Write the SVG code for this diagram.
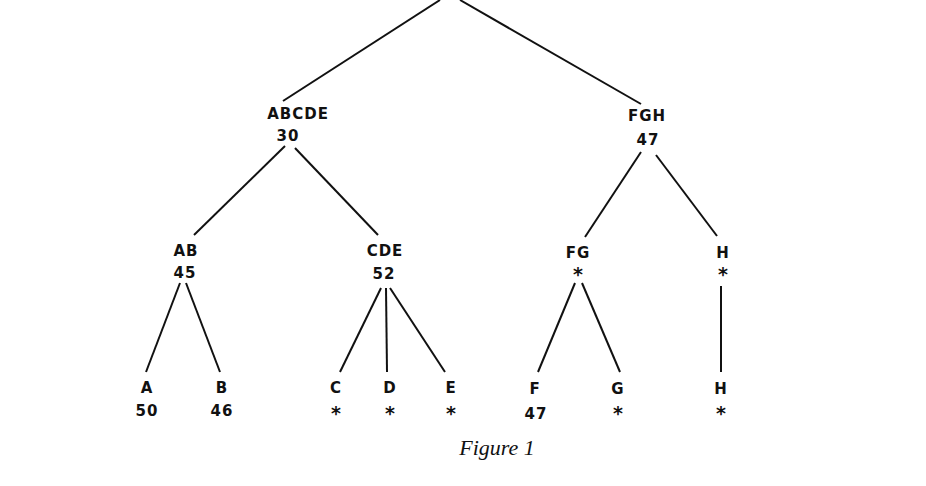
<svg xmlns="http://www.w3.org/2000/svg" width="926" height="486" viewBox="0 0 926 486">
<style>
.l{font-family:"DejaVu Sans",sans-serif;font-size:15px;font-weight:bold;fill:#111;text-anchor:middle;letter-spacing:1px}
.s{font-family:"DejaVu Sans",sans-serif;font-size:19px;font-weight:bold;fill:#111;text-anchor:middle}
.e line{stroke:#111;stroke-width:2}
.cap{font-family:"Liberation Serif",serif;font-style:italic;font-size:22px;fill:#111;text-anchor:middle}
</style>
<rect width="926" height="486" fill="#fff"/>
<g class="e" id="connectors">
<line x1="440" y1="0" x2="283" y2="101"/>
<line x1="460" y1="0" x2="641" y2="104"/>
<line x1="285" y1="146" x2="194" y2="235"/>
<line x1="295" y1="148" x2="378" y2="235"/>
<line x1="641" y1="152" x2="585" y2="237"/>
<line x1="656" y1="155" x2="717" y2="236"/>
<line x1="180" y1="283" x2="146" y2="372"/>
<line x1="186" y1="283" x2="220" y2="372"/>
<line x1="381" y1="288" x2="340" y2="372"/>
<line x1="386" y1="288" x2="387" y2="372"/>
<line x1="390" y1="288" x2="445" y2="372"/>
<line x1="575" y1="283" x2="538" y2="372"/>
<line x1="582" y1="283" x2="620" y2="372"/>
<line x1="721" y1="286" x2="721" y2="372"/>
</g>
<g id="ABCDE"><text class="l" x="298" y="119">ABCDE</text><text class="l" x="288" y="141">30</text></g>
<g id="FGH"><text class="l" x="647" y="121">FGH</text><text class="l" x="648" y="145">47</text></g>
<g id="AB"><text class="l" x="186" y="256">AB</text><text class="l" x="185" y="278">45</text></g>
<g id="CDE"><text class="l" x="385" y="256">CDE</text><text class="l" x="384" y="279">52</text></g>
<g id="FG"><text class="l" x="578" y="258">FG</text><text class="s" x="578" y="281">*</text></g>
<g id="H1"><text class="l" x="723" y="258">H</text><text class="s" x="723" y="281">*</text></g>
<g id="A"><text class="l" x="147" y="393">A</text><text class="l" x="147" y="416">50</text></g>
<g id="B"><text class="l" x="222" y="393">B</text><text class="l" x="222" y="416">46</text></g>
<g id="C"><text class="l" x="336" y="393">C</text><text class="s" x="336" y="420">*</text></g>
<g id="D"><text class="l" x="390" y="393">D</text><text class="s" x="390" y="420">*</text></g>
<g id="E"><text class="l" x="451" y="393">E</text><text class="s" x="451" y="420">*</text></g>
<g id="F"><text class="l" x="535" y="394">F</text><text class="l" x="536" y="419">47</text></g>
<g id="G"><text class="l" x="618" y="394">G</text><text class="s" x="618" y="420">*</text></g>
<g id="H2"><text class="l" x="721" y="394">H</text><text class="s" x="721" y="420">*</text></g>
<text class="cap" x="497" y="455">Figure 1</text>
</svg>
